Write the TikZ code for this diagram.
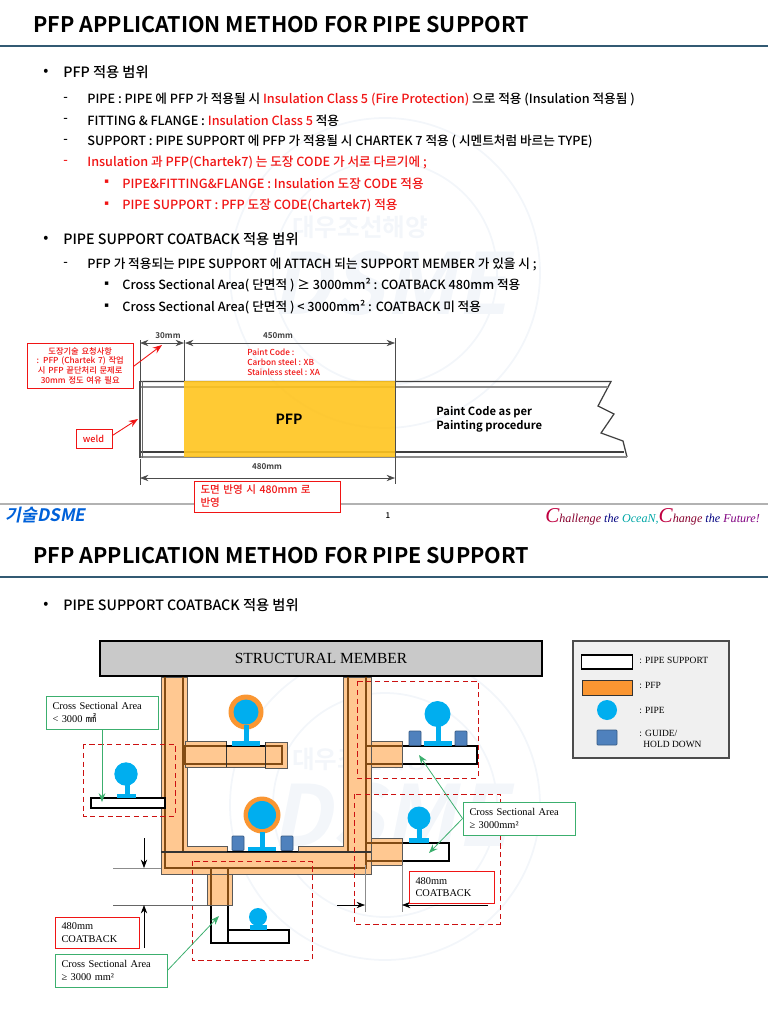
\documentclass[tikz,border=0pt]{standalone}
\usepackage{fontspec}
\usepackage{xcolor}
\usetikzlibrary{positioning, arrows.meta, calc}
\setmainfont{Noto Sans CJK KR Medium}[BoldFont={Noto Sans CJK KR Bold}]
\newfontfamily\serfont{Liberation Serif}
\newfontfamily\krfont{Noto Sans CJK KR}
\newfontfamily\logofont{Noto Sans CJK KR Bold}[FakeSlant=0.2]
\definecolor{dsme_red}{RGB}{240, 20, 20}
\definecolor{pfp_org}{RGB}{255, 200, 145}
\definecolor{pfp_key}{RGB}{250, 150, 50}
\definecolor{pfp_ylw}{RGB}{255, 196, 30}
\definecolor{pfp_brn}{RGB}{130, 75, 20}
\definecolor{pipe_blu}{RGB}{0, 174, 239}
\definecolor{grd_blu}{RGB}{79, 129, 189}
\definecolor{grn_ln}{RGB}{60, 175, 110}
\definecolor{rule_blu}{RGB}{50, 90, 115}
\definecolor{wm}{RGB}{243, 246, 250}

\begin{document}
\begin{tikzpicture}[x=0.02cm, y=-0.02cm, >=Stealth,
      title/.style={anchor=west, font=\fontsize{12.25}{13}\selectfont\bfseries, inner sep=0pt, yshift=-0.02cm},
      head/.style={anchor=west, font=\fontsize{8.1}{9}\selectfont, inner sep=0pt, yshift=-0.02cm},
      txt/.style={anchor=west, font=\fontsize{7.2}{9}\selectfont, inner sep=0pt, yshift=-0.03cm},
      rtxt/.style={txt, text=dsme_red},
      redbox/.style={draw=dsme_red, fill=white, line width=0.5pt, align=left, inner xsep=0.13cm, inner ysep=0pt},
      grnbox/.style={draw=grn_ln, fill=white, line width=0.5pt, align=left, inner xsep=0.13cm, inner ysep=0pt,
        font=\fontsize{5.9}{7.6}\selectfont\serfont},
      dimln/.style={<->, line width=0.4pt, black!70},
      rarr/.style={->, dsme_red, line width=0.5pt},
      garr/.style={->, grn_ln, line width=0.45pt},
      pfpfill/.style={fill=pfp_org, draw=black!65, line width=0.5pt},
      supp/.style={fill=white, draw=black, line width=1pt},
      zone/.style={draw=dsme_red!85!black, densely dashed, line width=0.5pt},
      guide/.style={fill=grd_blu, draw=grd_blu!70!black, line width=0.4pt, rounded corners=0.5pt},
      wmdsme/.style={text=wm, font=\fontsize{48}{48}\selectfont\logofont, inner sep=0pt},
      wmkr/.style={text=wm, font=\fontsize{14}{14}\selectfont\bfseries, inner sep=0pt},
      lbl/.style={inner sep=0pt, font=\fontsize{5.4}{6.4}\selectfont\serfont}]
    \useasboundingbox (0,0) rectangle (768,1024);
    % watermarks
    \foreach \y in {273,805} \draw[wm, line width=1pt] (385,\y) circle[radius=155] (385,\y) circle[radius=112];
    \node[wmdsme] (wm1) at (390,283) {DSME};
    \node[wmdsme] (wm2) at (390,815) {DSME};
    \node[wmkr] (wk1) at (360,227) {대우조선해양};
    \node[wmkr] (wk2) at (360,759) {대우조선해양};
    % first sheet: title and text
    \node[title] (t1) at (33,24) {PFP APPLICATION METHOD FOR PIPE SUPPORT};
    \draw[rule_blu, line width=0.8pt] (0,46) -- (768,46);
    \node[head] (b1) at (43,71) {•};
    \node[head] (h1) at (63,71) {PFP 적용 범위};
    \foreach \y in {98,119,140} \node[txt] at (63,\y) {-};
    \node[rtxt] at (63,161) {-};
    \node[txt] (l1) at (87,98) {PIPE : PIPE 에 PFP 가 적용될 시 \textcolor{dsme_red}{Insulation Class 5 (Fire Protection)} 으로 적용 (Insulation 적용됨 )};
    \node[txt] (l2) at (87,119) {FITTING \& FLANGE : \textcolor{dsme_red}{Insulation Class 5} 적용};
    \node[txt] (l3) at (87,140) {SUPPORT : PIPE SUPPORT 에 PFP 가 적용될 시 CHARTEK 7 적용 ( 시멘트처럼 바르는 TYPE)};
    \node[rtxt] (l4) at (87,161) {Insulation 과 PFP(Chartek7) 는 도장 CODE 가 서로 다르기에 ;};
    \foreach \y in {182,204} \node[rtxt] at (100,\y) {▪};
    \node[rtxt] (l5) at (122,182) {PIPE\&FITTING\&FLANGE : Insulation 도장 CODE 적용};
    \node[rtxt] (l6) at (122,204) {PIPE SUPPORT : PFP 도장 CODE(Chartek7) 적용};
    \node[head] (b2) at (43,238) {•};
    \node[head] (h2) at (63,238) {PIPE SUPPORT COATBACK 적용 범위};
    \node[txt] at (63,263) {-};
    \node[txt] (l7) at (87,263) {PFP 가 적용되는 PIPE SUPPORT 에 ATTACH 되는 SUPPORT MEMBER 가 있을 시 ;};
    \foreach \y in {284,306} \node[txt] at (100,\y) {▪};
    \node[txt] (l8) at (122,284) {Cross Sectional Area( 단면적 ) ≥ 3000mm² : COATBACK 480mm 적용};
    \node[txt] (l9) at (122,306) {Cross Sectional Area( 단면적 ) < 3000mm² : COATBACK 미 적용};
    % pipe with coating
    \draw[black!75, line width=0.7pt] (140,381.5) -- (611,381.5) -- (598,406) -- (614,414) -- (601,433) -- (623,441) -- (627,457);
    \draw[black!45, line width=0.9pt] (140,387) -- (608,387);
    \draw[black!75, line width=0.7pt] (140,452) -- (624,452);
    \draw[black!45, line width=0.9pt] (140,457) -- (627,457);
    \fill[pfp_ylw, opacity=0.9] (184,381) rectangle (395,457);
    \draw[black!70, line width=1.2pt] (140,381) -- (140,458);
    \draw[black!60, line width=0.4pt] (142,381) -- (142,458);
    \foreach \x/\a/\b in {140/340/381, 184/340/381, 395/338/484, 140/459/485}
      \draw[black!70, line width=0.4pt] (\x,\a) -- (\x,\b);
    \coordinate (d30a) at (140,343);  \coordinate (d30b) at (184,343);
    \coordinate (d450a) at (185,343); \coordinate (d450b) at (395,343);
    \coordinate (d480a) at (140,478); \coordinate (d480b) at (395,478);
    \foreach \x/\y in {d30a/d30b, d450a/d450b, d480a/d480b} \draw[dimln] (\x) -- (\y);
    \node[font=\fontsize{4.6}{5}\selectfont\bfseries, black!75, inner sep=0pt] (m30) at (168,336) {30mm};
    \node[font=\fontsize{4.6}{5}\selectfont\bfseries, black!75, inner sep=0pt] (m450) at (278,336) {450mm};
    \node[font=\fontsize{4.6}{5}\selectfont\bfseries, black!75, inner sep=0pt] (m480) at (267,467) {480mm};
    \node[font=\fontsize{8}{9}\selectfont\bfseries, inner sep=0pt] (pfp) at (289,419) {PFP};
    \node[anchor=north west, align=left, text=dsme_red, font=\fontsize{4.7}{5.45}\selectfont, inner sep=0pt] (pc) at (247,349)
      {Paint Code :\\Carbon steel : XB\\Stainless steel : XA};
    \node[anchor=west, align=left, font=\fontsize{6.4}{8}\selectfont\bfseries, inner sep=0pt] (pp) at (436,419)
      {Paint Code as per\\Painting procedure};
    % footer
    \draw[black!30, line width=0.7pt] (0,504) -- (768,504);
    \node[anchor=west, text=blue!55!cyan!85!black, font=\fontsize{9.8}{10}\selectfont\logofont, inner sep=0pt] (logo) at (5,515) {기술DSME};
    \node[font=\fontsize{4.6}{5}\selectfont, inner sep=0pt] (pg) at (388,516) {1};
    \node[anchor=west, inner sep=0pt, font=\fontsize{6.9}{7}\selectfont\serfont\itshape] (slog) at (545,517)
      {\textcolor{purple}{\fontsize{12}{12}\selectfont C}\textcolor{purple!70!black}{hallenge} \textcolor{blue!50!black}{the} \textcolor{teal!70!cyan}{OceaN,}\textcolor{purple}{\fontsize{12}{12}\selectfont C}\textcolor{purple!70!black}{hange} \textcolor{blue!50!black}{the} \textcolor{violet}{Future!}};
    % red notes
    \node[redbox, text=dsme_red, align=center, text width=1.85cm, minimum height=0.9cm, font=\fontsize{4.7}{5.5}\selectfont] (nt1) at (80.2,365.5)
      {도장기술 요청사항\\: PFP (Chartek 7) 작업\\시 PFP 끝단처리 문제로\\30mm 정도 여유 필요};
    \node[redbox, text=dsme_red, text width=0.45cm, minimum height=0.38cm, font=\fontsize{5.2}{6}\selectfont] (nt2) at (94.2,438.5) {weld};
    \node[redbox, text=dsme_red, text width=2.66cm, minimum height=0.62cm, font=\fontsize{6}{7.4}\selectfont] (nt3) at (267,496.5)
      {도면 반영 시 480mm 로\\반영};
    \coordinate (e1) at (162,345); \coordinate (e2) at (138,419);
    \draw[rarr] (nt1.east) ++(0,1) -- (e1);
    \draw[rarr] (nt2.east) ++(0,-3) -- (e2);
    % second sheet: title and text
    \node[title] (t2) at (33,555) {PFP APPLICATION METHOD FOR PIPE SUPPORT};
    \draw[rule_blu, line width=0.8pt] (0,577) -- (768,577);
    \node[head] (b3) at (43,604) {•};
    \node[head] (h3) at (63,604) {PIPE SUPPORT COATBACK 적용 범위};
    % beam
    \node[draw, fill=black!21, line width=1pt, minimum width=8.84cm, minimum height=0.7cm, inner sep=0pt,
      font=\fontsize{8.8}{9}\selectfont\serfont] (beam) at (321,658.5) {STRUCTURAL MEMBER};
    % frame with coating
    \draw[pfpfill] (161,677) -- (187,677) -- (187,846) -- (227,846) -- (227,852) -- (298,852) -- (298,846) -- (343,846)
      -- (343,677) -- (371,677) -- (371,874) -- (161,874) -- cycle;
    \draw[pfp_brn, line width=0.8pt] (165,677) -- (165,868) -- (366,868) -- (366,677);
    \draw[pfp_brn, line width=0.8pt] (183,677) -- (183,852);
    \draw[pfp_brn, line width=0.8pt] (348,677) -- (348,852);
    \draw[black!80, line width=0.6pt] (161,852) -- (371,852);
    \draw[black, line width=1pt] (227,851.5) -- (298,851.5);
    % upper branch
    \draw[pfpfill] (185,741) rectangle (226,767);
    \draw[pfpfill] (226,746) rectangle (265,767);
    \draw[pfpfill] (265,742) rectangle (287,768);
    \draw[pfp_brn, line width=0.8pt] (185,746) rectangle (282,764);
    \draw[black!80, line width=0.5pt] (226,741) -- (226,767) (265,742) -- (265,768);
    \draw[black, line width=1pt] (226,746) -- (265,746);
    % side supports
    \draw[supp] (91,798) rectangle (165,808);
    \draw[supp] (402,746) rectangle (477,764);
    \draw[supp] (402,843) rectangle (449,861);
    \draw[pfpfill] (371,741) rectangle (402,767);
    \draw[pfpfill] (371,838) rectangle (402,865);
    \draw[pfp_brn, line width=0.8pt] (366,746) -- (402,746) (366,764) -- (402,764) (366,843) -- (402,843) (366,861) -- (402,861);
    % lower support
    \draw[supp] (211,905) -- (228,905) -- (228,930) -- (289,930) -- (289,943) -- (211,943) -- cycle;
    \draw[black, line width=1pt] (228,930) -- (228,943);
    \draw[pfpfill] (207,874) rectangle (232,905);
    \draw[pfp_brn, line width=0.8pt] (211,868) -- (211,905) (228,868) -- (228,905);
    % guides
    \foreach \x/\y in {232/836, 281/836, 409/731, 455/731} \draw[guide] (\x,\y) rectangle ++(12,14.5);
    % pipes with coating, then bare pipes
    \foreach \x/\y/\r in {246/712/17.5, 262/815/18.5} \fill[pfp_key] (\x,\y) circle[radius=\r];
    \foreach \x/\y/\r in {246/712/12.5, 262/815/14, 126/774/11.7, 437.5/714/13, 419/818/11.5, 258/917/9} \fill[pipe_blu] (\x,\y) circle[radius=\r];
    \foreach \x/\a/\b in {246/725/742, 262.5/832/847, 127.5/785/795, 438/726/742, 419.5/828/839} \fill[pipe_blu] (\x-2.5,\a) rectangle (\x+2.5,\b);
    \foreach \a/\b/\c/\d in {232/741/260/746, 248/847/276/851, 117/794/136/798, 424/741/452/746, 409/838/429/843, 250/925/267/930}
      \fill[pipe_blu] (\a,\b) rectangle (\c,\d);
    % dashed zones
    \draw[zone] (83,744) rectangle (175,816);
    \draw[zone] (357,681) rectangle (478,778);
    \draw[zone] (354,794) rectangle (500,924);
    \draw[zone] (192,861) rectangle (312,960);
    % coatback dimensions
    \draw[black!45, line width=0.5pt] (113,868) -- (161,868);
    \draw[black!60, line width=0.5pt] (113,905) -- (207,905);
    \draw[black!45, line width=0.5pt] (365,865) -- (365,912) (402,865) -- (402,912);
    \coordinate (a1) at (144,838); \coordinate (a2) at (144,868);
    \coordinate (a3) at (144,948); \coordinate (a4) at (144,905);
    \coordinate (a5) at (337,905); \coordinate (a6) at (365,905);
    \coordinate (a7) at (488,905); \coordinate (a8) at (402,905);
    \foreach \x/\y in {a1/a2, a3/a4, a5/a6, a7/a8} \draw[->, line width=0.4pt] (\x) -- (\y);
    % callouts
    \node[grnbox, text width=1.98cm, minimum height=0.66cm] (ca1) at (102,712.5) {Cross Sectional Area\\< 3000 {\krfont ㎟}};
    \node[grnbox, text width=1.98cm, minimum height=0.66cm] (ca2) at (519,818.5) {Cross Sectional Area\\≥ 3000mm²};
    \node[grnbox, text width=1.98cm, minimum height=0.66cm] (ca3) at (111,970.5) {Cross Sectional Area\\≥ 3000 mm²};
    \coordinate (p1) at (102,802); \coordinate (p2) at (419,755);
    \coordinate (p3) at (429,853); \coordinate (p4) at (219,916);
    \draw[garr] (ca1.south -| p1) -- (p1);
    \draw[garr] (ca2.west) -- (p2);
    \draw[garr] (ca2.west) -- (p3);
    \draw[garr] (ca3.east) -- (p4);
    \node[redbox, font=\fontsize{5.9}{7.2}\selectfont\serfont, text width=1.44cm, minimum height=0.64cm] (cb1) at (451.5,887) {480mm\\COATBACK};
    \node[redbox, font=\fontsize{5.9}{7.2}\selectfont\serfont, text width=1.42cm, minimum height=0.62cm] (cb2) at (97,932.5) {480mm\\COATBACK};
    % legend
    \node[draw=black!70, fill=black!6, line width=0.7pt, minimum width=3.12cm, minimum height=2.34cm, inner sep=0pt] (lg) at (651,699.5) {};
    \node[draw, fill=white, line width=1pt, minimum width=1.02cm, minimum height=0.27cm, inner sep=0pt] (k1) at (607,662) {};
    \node[draw=black!80, fill=pfp_key, line width=0.5pt, minimum width=1cm, minimum height=0.3cm, inner sep=0pt] (k2) at (607,687.5) {};
    \node[circle, fill=pipe_blu, minimum size=0.4cm, inner sep=0pt] (k3) at (607,710) {};
    \node[guide, minimum width=0.4cm, minimum height=0.3cm, inner sep=0pt] (k4) at (607,737.5) {};
    \node[lbl, anchor=west] (k1t) at (639,660) {: PIPE SUPPORT};
    \node[lbl, anchor=west] (k2t) at (639,685) {: PFP};
    \node[lbl, anchor=west] (k3t) at (639,710) {: PIPE};
    \node[lbl, anchor=west] (k4t) at (639,733) {: GUIDE/};
    \node[lbl, anchor=west] (k5t) at (643,744.5) {HOLD DOWN};
\end{tikzpicture}
\end{document}
